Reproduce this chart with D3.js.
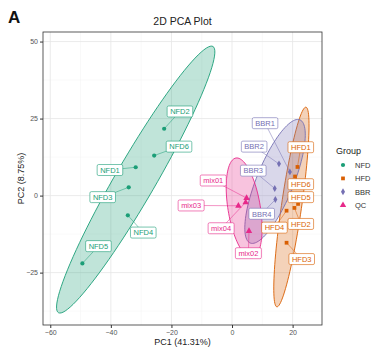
<!DOCTYPE html>
<html lang="en">
<head>
<meta charset="utf-8">
<title>2D PCA Plot</title>
<script src="https://cdn.jsdelivr.net/npm/d3@7"></script>
<style>
  body { margin: 0; background: #fff; }
  text { font-family: "Liberation Sans", Arial, sans-serif; }
</style>
</head>
<body>
<div id="chart"></div>
<script>
// groups and sample data (PC1, PC2)
var groups = ["NFD", "HFD", "BBR", "QC"];
var groupColors = ["#1B9E77", "#D95F02", "#7570B3", "#E7298A"];
var sampleNames = ["NFD1","NFD2","NFD3","NFD4","NFD5","NFD6",
                   "HFD1","HFD2","HFD3","HFD4","HFD5","HFD6",
                   "BBR1","BBR2","BBR3","BBR4",
                   "mix01","mix02","mix03","mix04"];
var sampleGroup = ["NFD","NFD","NFD","NFD","NFD","NFD",
                   "HFD","HFD","HFD","HFD","HFD","HFD",
                   "BBR","BBR","BBR","BBR",
                   "QC","QC","QC","QC"];
var pc1 = [-31.8, -22.4, -34.1, -34.4, -49.4, -25.7,
           21.6, 20.6, 18.0, 18.0, 21.8, 20.8,
           19.1, 15.5, 14.1, 14.3,
           4.8, 5.6, 2.1, 4.5];
var pc2 = [9.2, 21.7, 2.7, -6.4, -22.0, 13.0,
           9.3, -4.0, -15.3, -4.9, -2.7, 6.2,
           7.7, 10.3, 2.3, -1.3,
           -0.8, -11.5, -3.3, -2.2];
// repelled label positions (data units)
var labelX = [-40.3, -17.2, -42.7, -29.3, -44.1, -17.5,
              22.7, 22.7, 23.0, 14.0, 22.7, 22.7,
              10.9, 7.3, 7.0, 9.8,
              -6.2, 5.4, -13.5, -3.6];
var labelY = [8.3, 27.3, -0.5, -12.0, -16.4, 15.9,
              15.7, -9.2, -20.6, -10.4, -0.5, 3.7,
              23.5, 15.9, 8.1, -5.9,
              4.9, -18.7, -3.2, -10.6];
// confidence ellipses: centre, end of major axis, minor/major ratio
var ellCx = [-31.8, 19.6, 14.2, 4.0];
var ellCy = [5.2, -3.7, 4.6, -4.0];
var ellTx = [-6.3, 24.4, 22.4, 1.3];
var ellTy = [48.4, 28.7, 24.6, 12.2];
var ellRatio = [0.13, 0.10, 0.28, 0.32];

var xTicks = [-60, -40, -20, 0, 20];
var yTicks = [-25, 0, 25, 50];

var w = 377, h = 350;
var pLeft = 43, pRight = 322, pTop = 32, pBottom = 325;

var svg = d3.select("#chart").append("svg")
    .attr("width", w).attr("height", h);

var x = d3.scaleLinear().domain([-62.4, 29.7]).range([pLeft, pRight]);
var y = d3.scaleLinear().domain([-42, 53.1]).range([pBottom, pTop]);
var color = d3.scaleOrdinal().domain(groups).range(groupColors);
var shape = d3.scaleOrdinal().domain(groups)
    .range([d3.symbolCircle, d3.symbolSquare, d3.symbolDiamond, d3.symbolTriangle]);

// panel background + grid
svg.append("rect").attr("x", pLeft).attr("y", pTop)
   .attr("width", pRight - pLeft).attr("height", pBottom - pTop).attr("fill", "#fff");

var minorX = [-50, -30, -10, 10];
var minorY = [-37.5, -12.5, 12.5, 37.5];
svg.append("g").selectAll("line").data(minorX).enter().append("line")
   .attr("x1", d => x(d)).attr("x2", d => x(d)).attr("y1", pTop).attr("y2", pBottom)
   .attr("stroke", "#f2f2f2").attr("stroke-width", 0.5);
svg.append("g").selectAll("line").data(minorY).enter().append("line")
   .attr("y1", d => y(d)).attr("y2", d => y(d)).attr("x1", pLeft).attr("x2", pRight)
   .attr("stroke", "#f2f2f2").attr("stroke-width", 0.5);
svg.append("g").selectAll("line").data(xTicks).enter().append("line")
   .attr("x1", d => x(d)).attr("x2", d => x(d)).attr("y1", pTop).attr("y2", pBottom)
   .attr("stroke", "#e6e6e6").attr("stroke-width", 0.8);
svg.append("g").selectAll("line").data(yTicks).enter().append("line")
   .attr("y1", d => y(d)).attr("y2", d => y(d)).attr("x1", pLeft).attr("x2", pRight)
   .attr("stroke", "#e6e6e6").attr("stroke-width", 0.8);

// ellipses
var ellipseLine = d3.line();
groups.forEach(function(g, i) {
    var cx = x(ellCx[i]), cy = y(ellCy[i]);
    var ux = x(ellTx[i]) - cx, uy = y(ellTy[i]) - cy;
    var vx = -uy * ellRatio[i], vy = ux * ellRatio[i];
    var pts = d3.range(0, 101).map(function(k) {
        var t = k / 100 * 2 * Math.PI;
        return [cx + Math.cos(t) * ux + Math.sin(t) * vx,
                cy + Math.cos(t) * uy + Math.sin(t) * vy];
    });
    svg.append("path").attr("d", ellipseLine(pts) + "Z")
       .attr("fill", color(g)).attr("fill-opacity", 0.28)
       .attr("stroke", color(g)).attr("stroke-width", 0.9);
});

var samples = sampleNames.map(function(n, i) {
    return {name: n, group: sampleGroup[i], x: pc1[i], y: pc2[i], lx: labelX[i], ly: labelY[i]};
});

// points
svg.append("g").selectAll("path").data(samples).enter().append("path")
   .attr("transform", d => "translate(" + x(d.x) + "," + y(d.y) + ")")
   .attr("d", d => d3.symbol().type(shape(d.group)).size(d.group == "QC" ? 18 : 14)())
   .attr("fill", d => color(d.group));

// labels (segment + box + text)
var lab = svg.append("g").selectAll("g").data(samples).enter().append("g");
lab.append("line")
   .attr("x1", d => x(d.x)).attr("y1", d => y(d.y))
   .attr("x2", d => x(d.lx)).attr("y2", d => y(d.ly))
   .attr("stroke", d => color(d.group)).attr("stroke-width", 0.5);
lab.each(function(d) {
    var g = d3.select(this);
    var t = g.append("text").attr("x", x(d.lx)).attr("y", y(d.ly) + 2.8)
        .attr("text-anchor", "middle").attr("font-size", 7.5)
        .attr("fill", color(d.group)).text(d.name);
    var bw = t.node().getComputedTextLength() + 6;
    g.insert("rect", "text")
     .attr("x", x(d.lx) - bw / 2).attr("y", y(d.ly) - 5.5)
     .attr("width", bw).attr("height", 11).attr("rx", 1.5)
     .attr("fill", "#fff").attr("stroke", color(d.group)).attr("stroke-width", 0.6);
});

// panel border
svg.append("rect").attr("x", pLeft).attr("y", pTop)
   .attr("width", pRight - pLeft).attr("height", pBottom - pTop)
   .attr("fill", "none").attr("stroke", "#333").attr("stroke-width", 0.8);

// axes
var xAxis = d3.axisBottom(x).tickValues(xTicks).tickSize(3).tickPadding(2);
var yAxis = d3.axisLeft(y).tickValues(yTicks).tickSize(3).tickPadding(2);
var gx = svg.append("g").attr("transform", "translate(0," + pBottom + ")").call(xAxis);
var gy = svg.append("g").attr("transform", "translate(" + pLeft + ",0)").call(yAxis);
[gx, gy].forEach(function(g) {
    g.select(".domain").remove();
    g.selectAll("line").attr("stroke", "#333");
    g.selectAll("text").attr("font-size", 7).attr("fill", "#555")
     .attr("font-family", "Liberation Sans, Arial, sans-serif");
});

// titles
svg.append("text").attr("x", 8).attr("y", 23).attr("font-size", 17)
   .attr("font-weight", "bold").attr("fill", "#111").text("A");
svg.append("text").attr("x", (pLeft + pRight) / 2).attr("y", 25)
   .attr("text-anchor", "middle").attr("font-size", 10.5).attr("fill", "#222")
   .text("2D PCA Plot");
svg.append("text").attr("x", (pLeft + pRight) / 2).attr("y", 345)
   .attr("text-anchor", "middle").attr("font-size", 9).attr("fill", "#222")
   .text("PC1 (41.31%)");
svg.append("text").attr("transform", "translate(24," + (pTop + pBottom) / 2 + ") rotate(-90)")
   .attr("text-anchor", "middle").attr("font-size", 9).attr("fill", "#222")
   .text("PC2 (8.75%)");

// legend
var leg = svg.append("g").attr("transform", "translate(336,0)");
leg.append("text").attr("x", 0).attr("y", 154).attr("font-size", 9)
   .attr("fill", "#222").text("Group");
var li = leg.selectAll("g.item").data(groups).enter().append("g")
   .attr("transform", (d, i) => "translate(0," + (165 + i * 13.4) + ")");
li.append("path").attr("transform", "translate(7,0)")
  .attr("d", d => d3.symbol().type(shape(d)).size(d == "QC" ? 18 : 14)())
  .attr("fill", d => color(d));
li.append("text").attr("x", 19).attr("y", 2.7).attr("font-size", 7.5)
  .attr("fill", "#333").text(d => d);
</script>
</body>
</html>
